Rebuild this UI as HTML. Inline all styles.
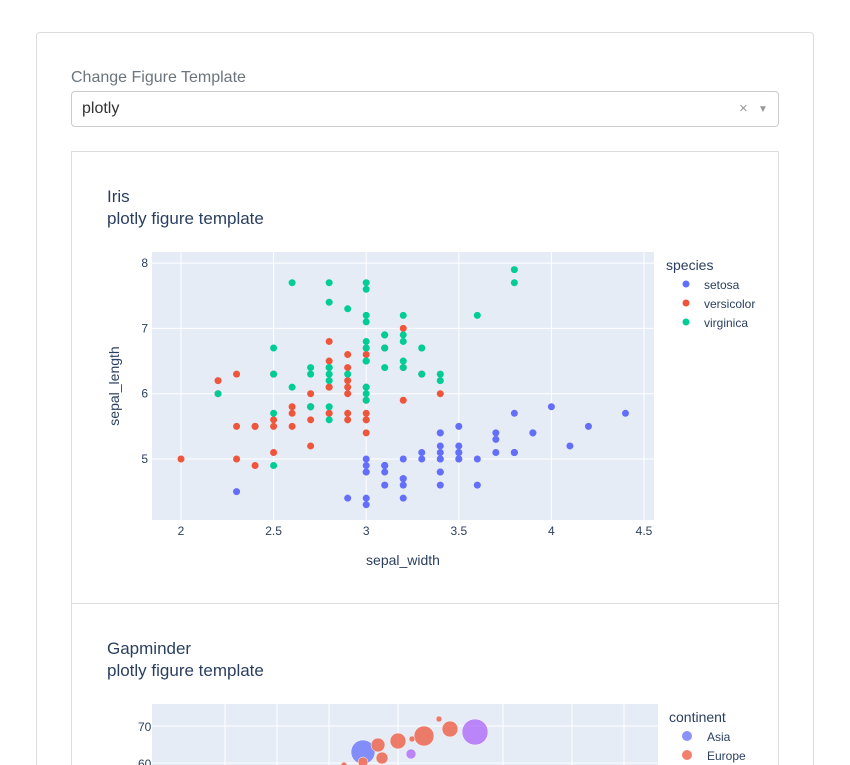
<!DOCTYPE html>
<html><head><meta charset="utf-8"><style>
html,body{margin:0;width:850px;height:765px;overflow:hidden;background:#fff;font-family:"Liberation Sans",sans-serif;position:relative}
.card{position:absolute;left:36px;top:32px;width:776px;height:740px;border:1px solid #dcdcdc;border-radius:4px}
.lbl{position:absolute;left:71px;top:69px;font-size:16px;color:#6c757d}
.dd{position:absolute;left:71px;top:91px;width:706px;height:34px;border:1px solid #ccc;border-radius:4px}
.dd span{position:absolute;left:10px;top:8px;font-size:16px;color:#333}
.g{position:absolute;left:71px;width:706px;border:1px solid #ddd}
svg{position:absolute;left:0;top:0}
</style></head><body>
<div class="card"></div>
<div class="lbl">Change Figure Template</div>
<div class="dd"><span>plotly</span><span style="left:667px;top:8px;color:#999;font-size:15px">×</span><span style="left:686px;top:12px;color:#999;font-size:10px">▼</span></div>
<div class="g" style="top:151px;height:451px"></div>
<div class="g" style="top:603px;height:180px"></div>
<svg id="s" width="850" height="765" font-family="Liberation Sans, sans-serif" fill="#2a3f5f">
<text x="107" y="202" font-size="17">Iris</text>
<text x="107" y="224" font-size="17">plotly figure template</text>
<rect x="152" y="252" width="502" height="268" fill="#e5ecf6"/>
<g id="grid" stroke="#fff" stroke-width="1"></g>
<g id="pts"></g>
<text x="403" y="565" font-size="14" text-anchor="middle">sepal_width</text>
<text transform="translate(119,386) rotate(-90)" font-size="14" text-anchor="middle">sepal_length</text>
<text x="666" y="270" font-size="14">species</text>
<circle cx="686" cy="284" r="3.5" fill="#636efa"/><text x="704" y="289" font-size="12">setosa</text>
<circle cx="686" cy="303" r="3.5" fill="#EF553B"/><text x="704" y="308" font-size="12">versicolor</text>
<circle cx="686" cy="322" r="3.5" fill="#00cc96"/><text x="704" y="327" font-size="12">virginica</text>
<text x="107" y="654" font-size="17">Gapminder</text>
<text x="107" y="676" font-size="17">plotly figure template</text>
<rect x="152" y="704" width="506" height="70" fill="#e5ecf6"/>
<g stroke="#fff"><line x1="225" x2="225" y1="704" y2="765"/><line x1="277" x2="277" y1="704" y2="765"/><line x1="329" x2="329" y1="704" y2="765"/><line x1="398" x2="398" y1="704" y2="765"/><line x1="503" x2="503" y1="704" y2="765"/><line x1="572" x2="572" y1="704" y2="765"/><line x1="624" x2="624" y1="704" y2="765"/><line x1="152" x2="658" y1="726" y2="726"/><line x1="152" x2="658" y1="763" y2="763"/></g>
<text x="138" y="731" font-size="12">70</text><text x="138" y="768" font-size="12">60</text>
<g stroke="#fff" stroke-width="0.5" opacity="0.75">
<circle cx="475" cy="732" r="13" fill="#ab63fa"/><circle cx="363" cy="752" r="12" fill="#636efa"/>
<circle cx="424" cy="736" r="10" fill="#EF553B"/><circle cx="450" cy="729" r="8" fill="#EF553B"/>
<circle cx="398" cy="741" r="8" fill="#EF553B"/><circle cx="378" cy="745" r="7" fill="#EF553B"/>
<circle cx="382" cy="758" r="6" fill="#EF553B"/><circle cx="411" cy="754" r="5" fill="#ab63fa"/>
<circle cx="439" cy="719" r="3" fill="#EF553B"/><circle cx="363" cy="762" r="5" fill="#EF553B"/>
<circle cx="344" cy="765" r="3" fill="#EF553B"/><circle cx="412" cy="739" r="3" fill="#EF553B"/>
</g>
<text x="669" y="722" font-size="14">continent</text>
<circle cx="687" cy="736" r="5" fill="#636efa" opacity=".75"/><text x="707" y="741" font-size="12">Asia</text>
<circle cx="687" cy="755" r="5" fill="#EF553B" opacity=".75"/><text x="707" y="760" font-size="12">Europe</text>
</svg>
<script>
var X=w=>181+(w-2)*185.2,Y=l=>459-(l-5)*65.3,ns="http://www.w3.org/2000/svg",s=document.getElementById('s');
function el(p,t,a){var e=document.createElementNS(ns,t);for(var k in a)e.setAttribute(k,a[k]);p.appendChild(e);return e}
var g=document.getElementById('grid');
[2,2.5,3,3.5,4,4.5].forEach(v=>{el(g,'line',{x1:X(v),x2:X(v),y1:252,y2:520});var t=el(s,'text',{x:X(v),y:535,'font-size':12,'text-anchor':'middle'});t.textContent=v});
[5,6,7,8].forEach(v=>{el(g,'line',{x1:152,x2:654,y1:Y(v),y2:Y(v)});var t=el(s,'text',{x:148,y:Y(v)+4,'font-size':12,'text-anchor':'end'});t.textContent=v});
var D={"#636efa":"5.1,3.5;4.9,3.0;4.7,3.2;4.6,3.1;5.0,3.6;5.4,3.9;4.6,3.4;5.0,3.4;4.4,2.9;4.9,3.1;5.4,3.7;4.8,3.4;4.8,3.0;4.3,3.0;5.8,4.0;5.7,4.4;5.4,3.9;5.1,3.5;5.7,3.8;5.1,3.8;5.4,3.4;5.1,3.7;4.6,3.6;5.1,3.3;4.8,3.4;5.0,3.0;5.0,3.4;5.2,3.5;5.2,3.4;4.7,3.2;4.8,3.1;5.4,3.4;5.2,4.1;5.5,4.2;4.9,3.1;5.0,3.2;5.5,3.5;4.9,3.1;4.4,3.0;5.1,3.4;5.0,3.5;4.5,2.3;4.4,3.2;5.0,3.5;5.1,3.8;4.8,3.0;5.1,3.8;4.6,3.2;5.3,3.7;5.0,3.3",
"#EF553B":"7.0,3.2;6.4,3.2;6.9,3.1;5.5,2.3;6.5,2.8;5.7,2.8;6.3,3.3;4.9,2.4;6.6,2.9;5.2,2.7;5.0,2.0;5.9,3.0;6.0,2.2;6.1,2.9;5.6,2.9;6.7,3.1;5.6,3.0;5.8,2.7;6.2,2.2;5.6,2.5;5.9,3.2;6.1,2.8;6.3,2.5;6.1,2.8;6.4,2.9;6.6,3.0;6.8,2.8;6.7,3.0;6.0,2.9;5.7,2.6;5.5,2.4;5.5,2.4;5.8,2.7;6.0,2.7;5.4,3.0;6.0,3.4;6.7,3.1;6.3,2.3;5.6,3.0;5.5,2.5;5.5,2.6;6.1,3.0;5.8,2.6;5.0,2.3;5.6,2.7;5.7,3.0;5.7,2.9;6.2,2.9;5.1,2.5;5.7,2.8",
"#00cc96":"6.3,3.3;5.8,2.7;7.1,3.0;6.3,2.9;6.5,3.0;7.6,3.0;4.9,2.5;7.3,2.9;6.7,2.5;7.2,3.6;6.5,3.2;6.4,2.7;6.8,3.0;5.7,2.5;5.8,2.8;6.4,3.2;6.5,3.0;7.7,3.8;7.7,2.6;6.0,2.2;6.9,3.2;5.6,2.8;7.7,2.8;6.3,2.7;6.7,3.3;7.2,3.2;6.2,2.8;6.1,3.0;6.4,2.8;7.2,3.0;7.4,2.8;7.9,3.8;6.4,2.8;6.3,2.8;6.1,2.6;7.7,3.0;6.3,3.4;6.4,3.1;6.0,3.0;6.9,3.1;6.7,3.1;6.9,3.1;5.8,2.7;6.8,3.2;6.7,3.3;6.7,3.0;6.3,2.5;6.5,3.0;6.2,3.4;5.9,3.0"};
var p=document.getElementById('pts');
for(var c in D)D[c].split(';').forEach(q=>{var a=q.split(',');el(p,'circle',{cx:X(+a[1]),cy:Y(+a[0]),r:3.5,fill:c})});
</script>
</body></html>
